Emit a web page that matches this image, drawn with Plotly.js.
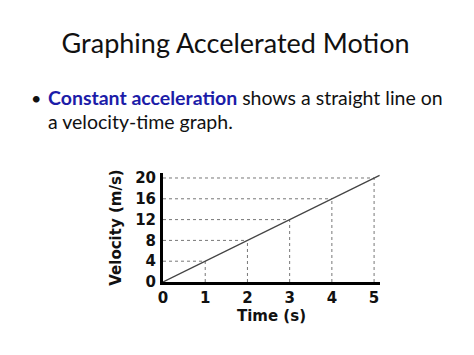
<!DOCTYPE html>
<html><head><meta charset="utf-8">
<script src="https://cdn.plot.ly/plotly-3.0.1.min.js"></script>
<style>html,body{margin:0;padding:0;background:#fff}</style>
</head><body>
<div id="chart" style="width:474px;height:355px"></div>
<script>
const timeS = [0, 1, 2, 3, 4, 5];
const velocity = [0, 4, 8, 12, 16, 20];
const lineEndTime = 5.13;
const lineEndVelocity = 20.5;
const xTicks = [0, 1, 2, 3, 4, 5];
const yTicks = [0, 4, 8, 12, 16, 20];

const W = 474, H = 355;
const L = 163, R = 380, T = 173, B = 282;
const px = p => (p - L) / (R - L);
const py = p => (B - p) / (B - T);

const gx = [], gy = [];
for (let i = 1; i < timeS.length; i++) {
  gx.push(timeS[i], timeS[i], null, 0, timeS[i], null);
  gy.push(0, velocity[i], null, velocity[i], velocity[i], null);
}

const chartFont = {family: 'DejaVu Sans', size: 15, color: '#111', weight: 'bold'};
const slideFont = {family: 'Lato', color: '#111', weight: 'normal'};

const data = [
  {x: gx, y: gy, mode: 'lines', line: {color: '#777', width: 1, dash: 'dot'}, hoverinfo: 'skip', showlegend: false},
  {x: timeS.concat([lineEndTime]), y: velocity.concat([lineEndVelocity]), mode: 'lines',
   line: {color: '#444', width: 1.3}, showlegend: false}
];

const layout = {
  width: W, height: H,
  margin: {l: L, r: W - R, t: T, b: H - B, pad: 0},
  paper_bgcolor: '#fff', plot_bgcolor: '#fff',
  font: chartFont,
  title: {text: 'Graphing Accelerated Motion', font: Object.assign({size: 27}, slideFont),
          x: 0.497, xanchor: 'center', xref: 'container', y: 1 - 44/H, yanchor: 'middle'},
  xaxis: {range: [0, 5.14], tickvals: xTicks, ticktext: xTicks.map(String), showgrid: false, zeroline: false,
          showline: true, linecolor: '#000', linewidth: 3, ticks: '', ticklabelstandoff: 0,
          tickfont: chartFont, fixedrange: true,
          title: {text: 'Time (s)', font: chartFont, standoff: 0}},
  yaxis: {range: [0, 20.96], tickvals: yTicks, ticktext: yTicks.map(String), showgrid: false, zeroline: false,
          showline: true, linecolor: '#000', linewidth: 3, ticks: '', ticklabelstandoff: 1,
          tickfont: chartFont, fixedrange: true,
          title: {text: 'Velocity (m/s)', font: chartFont, standoff: 10}},
  annotations: [
    {xref: 'paper', yref: 'paper', x: px(29), y: py(98), xanchor: 'left', yanchor: 'middle', showarrow: false,
     align: 'left', text: '•', font: Object.assign({size: 18}, slideFont)},
    {xref: 'paper', yref: 'paper', x: px(46), y: py(98), xanchor: 'left', yanchor: 'middle', showarrow: false,
     align: 'left',
     text: '<b><span style="color:#1c1ca8">Constant acceleration</span></b> shows a straight line on',
     font: Object.assign({size: 19.5}, slideFont)},
    {xref: 'paper', yref: 'paper', x: px(46), y: py(121), xanchor: 'left', yanchor: 'middle', showarrow: false,
     align: 'left', text: 'a velocity-time graph.', font: Object.assign({size: 19.5}, slideFont)}
  ]
};

Plotly.newPlot('chart', data, layout, {displayModeBar: false, staticPlot: true});
</script>
</body></html>
